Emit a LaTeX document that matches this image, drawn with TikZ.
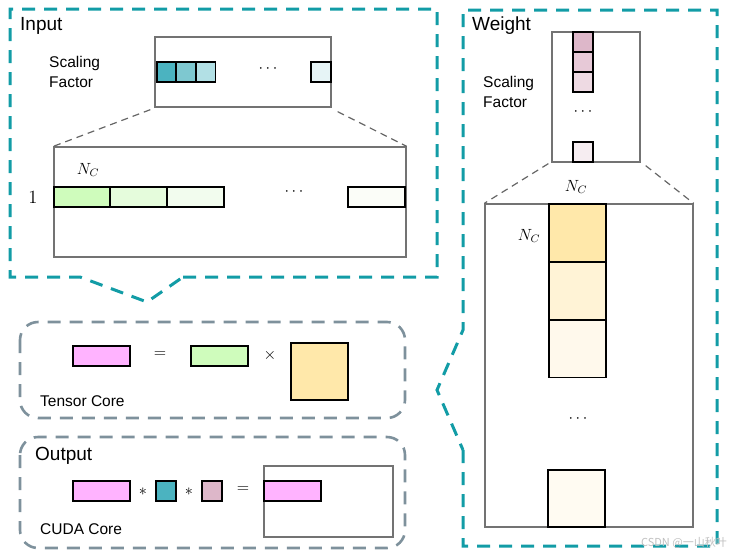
\documentclass[tikz,border=0pt]{standalone}
\usepackage{fontspec}
\setmainfont{Liberation Sans}
\newfontfamily\cjk{Noto Sans CJK SC}
\begin{document}
\begin{tikzpicture}[x=1pt,y=-1pt,
  panel/.style={draw=pnl,line width=3pt,dash pattern=on 13pt off 9pt},
  core/.style={draw=cor,line width=2.6pt,dash pattern=on 13pt off 9pt,rounded corners=18pt},
  frame/.style={draw=black!55,line width=1.3pt},
  cell/.style={draw=black,line width=1.5pt},
  zoomln/.style={draw=black!60,line width=1.2pt,dash pattern=on 7pt off 5pt},
  lbl/.style={font=\fontsize{19}{19}\selectfont,anchor=west,inner sep=0pt},
  sl/.style={font=\fontsize{15.5}{20}\selectfont,anchor=west,inner sep=0pt,align=left},
  op/.style={font=\large,inner sep=0pt,scale=1.35}]
\definecolor{pnl}{HTML}{129CA6}\definecolor{cor}{HTML}{7E919C}
\definecolor{tA}{HTML}{4BB3C0}\definecolor{tB}{HTML}{7EC8D0}\definecolor{tC}{HTML}{B2E0E5}\definecolor{tD}{HTML}{E6F4F6}
\definecolor{gA}{HTML}{CFFCBC}\definecolor{gB}{HTML}{E5FCDC}\definecolor{gC}{HTML}{F2FCEE}\definecolor{gD}{HTML}{FBFDF8}
\definecolor{yA}{HTML}{FFE8AA}\definecolor{yB}{HTML}{FFF3D6}\definecolor{yC}{HTML}{FFF9EC}\definecolor{yD}{HTML}{FFFBF2}
\definecolor{mA}{HTML}{DDB7C9}\definecolor{mB}{HTML}{E7C9D7}\definecolor{mC}{HTML}{EEDAE3}\definecolor{mD}{HTML}{F6EDF1}
\definecolor{pk}{HTML}{FFB3FF}
\useasboundingbox (0,0) rectangle (738,557);
% panels
\draw[panel] (183,277) -- (437,277) -- (437,9) -- (10,9) -- (10,277) -- (80,277) -- (147,302) -- cycle;
\draw[panel] (463,450) -- (463,546) -- (717,546) -- (717,10) -- (463,10) -- (463,330) -- (437,390) -- cycle;
% Input
\node[lbl] (inl) at (20,26) {Input};
\node[sl] (insf) at (49,72) {Scaling\\Factor};
\node[frame,minimum width=176pt,minimum height=70pt,inner sep=0pt] (isb) at (243,72) {};
\foreach \c/\x in {tA/157,tB/176,tC/196}{\draw[cell,fill=\c] (\x,62) rectangle ++(19.5,20);}
\node[op] (id1) at (268,69) {$\cdots$};
\draw[cell,fill=tD] (311,62) rectangle (331,82);
\node[frame,minimum width=352pt,minimum height=110pt,inner sep=0pt] (ibb) at (230,202) {};
\draw[zoomln] (isb.south west) ++(-4,2) -- (ibb.north west);
\draw[zoomln] (isb.south east) ++(6,4) -- (ibb.north east);
\foreach \c/\x in {gA/54,gB/110,gC/167}{\draw[cell,fill=\c] (\x,187) rectangle ++(57,20);}
\draw[cell,fill=gD] (348,187) rectangle (405,207);
\node[op] (id2) at (294,192) {$\cdots$};
\node[op] (inc) at (88,170) {$N_C$};
\node[op,scale=1.15] (ione) at (33,197) {$1$};
% Tensor core
\draw[core] (20,322) rectangle (405,418);
\draw[cell,fill=pk] (73,346) rectangle (130,366);
\node[op] (eq1) at (160,355) {$=$};
\draw[cell,fill=gA] (191,346) rectangle (248,366);
\node[op] (x1) at (270,355) {$\times$};
\draw[cell,fill=yA] (291,343) rectangle (348,400);
\node[sl] (tcl) at (40,401) {Tensor Core};
% Output
\draw[core] (20,437) rectangle (405,548);
\node[lbl] (outl) at (35,456) {Output};
\draw[cell,fill=pk] (73,481) rectangle (130,501);
\node[op] (s1) at (143,492) {$*$};
\draw[cell,fill=tA] (156,481) rectangle (176,501);
\node[op] (s2) at (189,492) {$*$};
\draw[cell,fill=mA] (202,481) rectangle (222,501);
\node[op] (eq2) at (243,490) {$=$};
\draw[frame] (264,466) rectangle (393,537);
\draw[cell,fill=pk] (264,481) rectangle (321,501);
\node[sl] (ccl) at (40,529) {CUDA Core};
% Weight
\node[lbl] (wl) at (472,26) {Weight};
\node[sl] (wsf) at (483,92) {Scaling\\Factor};
\node[frame,minimum width=88pt,minimum height=130pt,inner sep=0pt] (wsb) at (596,97) {};
\foreach \c/\y in {mA/32,mB/52,mC/72}{\draw[cell,fill=\c] (573,\y) rectangle ++(20,20);}
\node[op] (wd1) at (583,112) {$\cdots$};
\draw[cell,fill=mD] (573,142) rectangle (593,162);
\node[frame,minimum width=208pt,minimum height=323pt,inner sep=0pt] (wbb) at (589,365.5) {};
\draw[zoomln] (wsb.south west) ++(-3,1) -- (wbb.north west);
\draw[zoomln] (wsb.south east) ++(5,3) -- (wbb.north east);
\foreach \c/\y in {yA/204,yB/262,yC/320}{\draw[cell,fill=\c] (549,\y) rectangle ++(57,57.5);}
\node[op] (wd2) at (578,419) {$\cdots$};
\draw[cell,fill=yD] (548,470) rectangle (605,527);
\node[op] (wnc1) at (576,187) {$N_C$};
\node[op] (wnc2) at (529,236) {$N_C$};
\node[font=\cjk\fontsize{11}{11}\selectfont,text=black!25,anchor=east,inner sep=0pt] (wm) at (727,543) {CSDN @一山秋叶};
\end{tikzpicture}
\end{document}
